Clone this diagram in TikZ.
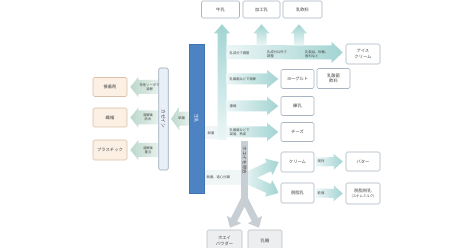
\documentclass[tikz,border=0pt]{standalone}
\usepackage{fontspec}
\newfontfamily\cjk{Noto Sans CJK JP}
\usetikzlibrary{calc}
\definecolor{tealhi}{HTML}{A2D4D2}
\definecolor{teallo}{HTML}{ECF6F6}
\definecolor{bandlo}{HTML}{F0F6F6}
\definecolor{bluebar}{HTML}{4D82C3}
\definecolor{bluebarline}{HTML}{4273B1}
\definecolor{boxline}{HTML}{A9B5C3}
\definecolor{txt}{HTML}{444444}
\definecolor{grayarm}{HTML}{C7CED4}
\definecolor{caseinfill}{HTML}{E9EFF6}
\definecolor{caseinline}{HTML}{9AAABD}
\definecolor{peach}{HTML}{FCEFE3}
\definecolor{peachline}{HTML}{D9C1A9}
\definecolor{minthi}{HTML}{BCD8CC}
\definecolor{mintlo}{HTML}{E6F1EC}
\definecolor{grayboxfill}{HTML}{ECEEF0}
\definecolor{grayboxline}{HTML}{B8BEC5}
\newcommand{\boxfont}{\cjk\fontsize{4.3}{5.2}\selectfont}
\newcommand{\smallboxfont}{\cjk\fontsize{3.4}{4.2}\selectfont}
\newcommand{\lblfont}{\cjk\fontsize{3.3}{4.1}\selectfont}
\newcommand{\vertfont}{\cjk\fontsize{4.6}{5.2}\selectfont}
% #1 shade options, #2 start, #3 tip, #4 shaft half width, #5 head half width, #6 head length
\newcommand{\flowarrow}[6]{%
  \coordinate (fab) at ($(#3)!#6!(#2)$);
  \shade[#1] ($(#2)!#4!90:(#3)$) -- ($(fab)!#4!90:(#3)$) -- ($(fab)!#5!90:(#3)$) -- (#3)
    -- ($(fab)!#5!-90:(#3)$) -- ($(fab)!#4!-90:(#3)$) -- ($(#2)!#4!-90:(#3)$) -- cycle;
}
\begin{document}
\begin{tikzpicture}[x=1pt,y=-1pt,
  box/.style={draw=boxline, line width=0.6pt, fill=white, rounded corners=1.5pt,
    inner sep=0pt, align=center, text=txt, font=\boxfont},
  peachbox/.style={box, draw=peachline, fill=peach},
  graybox/.style={box, draw=grayboxline, fill=grayboxfill},
  lbl/.style={inner sep=0pt, align=left, text=txt, font=\lblfont},
  vtext/.style={inner sep=0pt, rotate=-90, font=\vertfont, text=txt},
  hflow/.style={left color=teallo, right color=tealhi},
  vflow/.style={top color=tealhi, bottom color=teallo},
  mintflow/.style={left color=minthi, right color=mintlo},
  grayflow/.style={top color=grayarm, bottom color=grayarm}
]
\useasboundingbox (0,0) rectangle (474,248);
\fill[white] (0,0) rectangle (474,248);

% ---- boxes ----
\node[box, minimum width=38pt, minimum height=17pt] (gyu) at (220.5,9.5) {牛乳};
\node[box, minimum width=37pt, minimum height=17pt] (kako) at (261.5,9.5) {加工乳};
\node[box, minimum width=39pt, minimum height=17pt] (nyuin) at (302.5,9.5) {乳飲料};
\node[box, minimum width=34pt, minimum height=20pt] (ice) at (363,54) {アイス\\クリーム};
\node[box, minimum width=33pt, minimum height=19pt] (yog) at (297.5,79) {ヨーグルト};
\node[box, minimum width=33pt, minimum height=20pt] (lacto) at (333.5,78.5) {乳酸菌\\飲料};
\node[box, minimum width=33pt, minimum height=19pt] (renyu) at (297.5,106) {練乳};
\node[box, minimum width=33pt, minimum height=19pt] (cheese) at (297.5,132) {チーズ};
\node[box, minimum width=33pt, minimum height=20pt] (cream) at (297.5,162) {クリーム};
\node[box, minimum width=33pt, minimum height=20pt] (skim) at (297.5,193) {脱脂乳};
\node[box, minimum width=34pt, minimum height=19pt] (butter) at (363,161.5) {バター};
\node[box, minimum width=34pt, minimum height=21pt] (skimpow) at (363,193.5) {脱脂粉乳\\{\smallboxfont (スキムミルク)}};
\node[graybox, minimum width=35pt, minimum height=22pt] (whey) at (224.5,241) {ホエイ\\パウダー};
\node[graybox, minimum width=34pt, minimum height=22pt] (lactose) at (265,241) {乳糖};
\node[peachbox, minimum width=34pt, minimum height=19pt] (glue) at (110,87) {接着剤};
\node[peachbox, minimum width=34pt, minimum height=19pt] (fiber) at (110,117.5) {繊維};
\node[peachbox, minimum width=34pt, minimum height=20pt] (plastic) at (110,150) {プラスチック};

% ---- bands behind ----
\fill[bandlo] (204,126) rectangle (219,139);
\fill[bandlo] (204,170) rectangle (242,185.5);

% ---- teal flows ----
\coordinate (trunkS) at (222,140);
\coordinate (trunkT) at ($(gyu.south)+(1.5,6)$);
\flowarrow{vflow}{trunkS}{trunkT}{4.5pt}{8pt}{9pt}
\coordinate (topS) at (226.5,52);
\coordinate (topT) at ($(ice.west)+(-3,-1.5)$);
\flowarrow{hflow}{topS}{topT}{7pt}{10.5pt}{11pt}
\coordinate (kakoS) at (261.5,45.5);
\coordinate (kakoT) at ($(kako.south)+(0,6)$);
\flowarrow{vflow}{kakoS}{kakoT}{5pt}{8pt}{9pt}
\coordinate (nyuinS) at (299,45.5);
\coordinate (nyuinT) at ($(nyuin.south)+(-3.5,6)$);
\flowarrow{vflow}{nyuinS}{nyuinT}{5pt}{8pt}{9pt}
\coordinate (yogS) at (226.5,79);
\coordinate (yogT) at ($(yog.west)+(-2.5,0)$);
\flowarrow{hflow}{yogS}{yogT}{5.5pt}{9pt}{11pt}
\coordinate (renyuS) at (226.5,106);
\coordinate (renyuT) at ($(renyu.west)+(-2.5,0)$);
\flowarrow{hflow}{renyuS}{renyuT}{5.5pt}{9pt}{11pt}
\coordinate (cheeseS) at (226.5,132);
\coordinate (cheeseT) at ($(cheese.west)+(-2.5,0)$);
\flowarrow{hflow}{cheeseS}{cheeseT}{5.5pt}{9pt}{11pt}
\coordinate (sepS) at (245,178);
\coordinate (creamT) at ($(cream.west)+(-2,0)$);
\coordinate (skimT) at ($(skim.west)+(-2,0)$);
\flowarrow{hflow}{sepS}{creamT}{5pt}{9pt}{11pt}
\flowarrow{hflow}{sepS}{skimT}{5pt}{9pt}{11pt}
\coordinate (churnS) at ($(cream.east)+(1.5,0)$);
\coordinate (churnT) at ($(butter.west)+(-3,0)$);
\flowarrow{hflow}{churnS}{churnT}{4.5pt}{8pt}{9pt}
\coordinate (dryS) at ($(skim.east)+(1.5,0)$);
\coordinate (dryT) at ($(skimpow.west)+(-3,0)$);
\flowarrow{hflow}{dryS}{dryT}{4.5pt}{8pt}{9pt}

% ---- whey removal (gray) ----
\fill[grayarm] (241,141) rectangle (248,201);
\coordinate (ysplit) at (244.5,199);
\coordinate (wheyT) at ($(whey.north)+(5.5,-2)$);
\coordinate (lactoseT) at ($(lactose.north)+(-6,-2)$);
\flowarrow{grayflow}{ysplit}{wheyT}{3.5pt}{8pt}{9pt}
\flowarrow{grayflow}{ysplit}{lactoseT}{3.5pt}{8pt}{9pt}
\node[vtext] (wheytext) at (244.5,160.5) {ホエイを除去};

% ---- raw milk bar and casein ----
\node[draw=bluebarline, fill=bluebar, line width=0.5pt, minimum width=15pt, minimum height=149pt, inner sep=0pt] (raw) at (196.5,118.5) {};
\node[vtext, text=white, font=\boxfont] (rawtext) at (raw.center) {生乳};
\node[draw=caseinline, fill=caseinfill, line width=0.6pt, rounded corners=1.5pt, minimum width=9.5pt, minimum height=102pt, inner sep=0pt] (casein) at (163.5,119) {};
\node[vtext] (caseintext) at (casein.center) {カゼイン};

\coordinate (isoS) at (raw.west);
\coordinate (isoT) at ($(casein.east)+(2.5,0)$);
\flowarrow{mintflow}{isoS}{isoT}{7pt}{11.5pt}{8pt}
\coordinate (glueS) at ($(casein.west |- glue.east)+(-0.5,0)$);
\coordinate (glueT) at ($(glue.east)+(3,0)$);
\flowarrow{mintflow}{glueS}{glueT}{7pt}{10pt}{8pt}
\coordinate (fiberS) at ($(casein.west |- fiber.east)+(-0.5,0)$);
\coordinate (fiberT) at ($(fiber.east)+(3,0)$);
\flowarrow{mintflow}{fiberS}{fiberT}{7pt}{10pt}{8pt}
\coordinate (plasticS) at ($(casein.west |- plastic.east)+(-0.5,0)$);
\coordinate (plasticT) at ($(plastic.east)+(3,0)$);
\flowarrow{mintflow}{plasticS}{plasticT}{7pt}{10pt}{8pt}

% ---- labels ----
\node[lbl, anchor=west] (l1) at (229.5,53) {乳成分で調整};
\node[lbl, anchor=west] (l2) at (267,54) {乳成分以外で\\調整};
\node[lbl, anchor=west] (l3) at (305,54) {乳製品、砂糖、\\香料など};
\node[lbl, anchor=west] (l4) at (229.5,79) {乳酸菌などで発酵};
\node[lbl, anchor=west] (l5) at (229.5,106) {濃縮};
\node[lbl, anchor=west] (l6) at (229.5,132) {乳酸菌などで\\凝固、熟成};
\node[lbl, anchor=west] (l7) at (207.5,133) {殺菌};
\node[lbl, anchor=west] (l8) at (206.5,177.5) {殺菌、遠心分離};
\node[lbl, anchor=west] (l9) at (317.5,161.5) {撹拌};
\node[lbl, anchor=west] (l10) at (317.5,193.5) {乾燥};
\node[lbl, align=center] (l11) at (181.5,118.5) {単離};
\node[lbl, align=center] (l12) at (149.5,87) {苛性ソーダで\\溶解};
\node[lbl, align=center] (l13) at (148,117.5) {溶解後\\紡糸};
\node[lbl, align=center] (l14) at (148,150) {溶解後\\重合};
\end{tikzpicture}
\end{document}
